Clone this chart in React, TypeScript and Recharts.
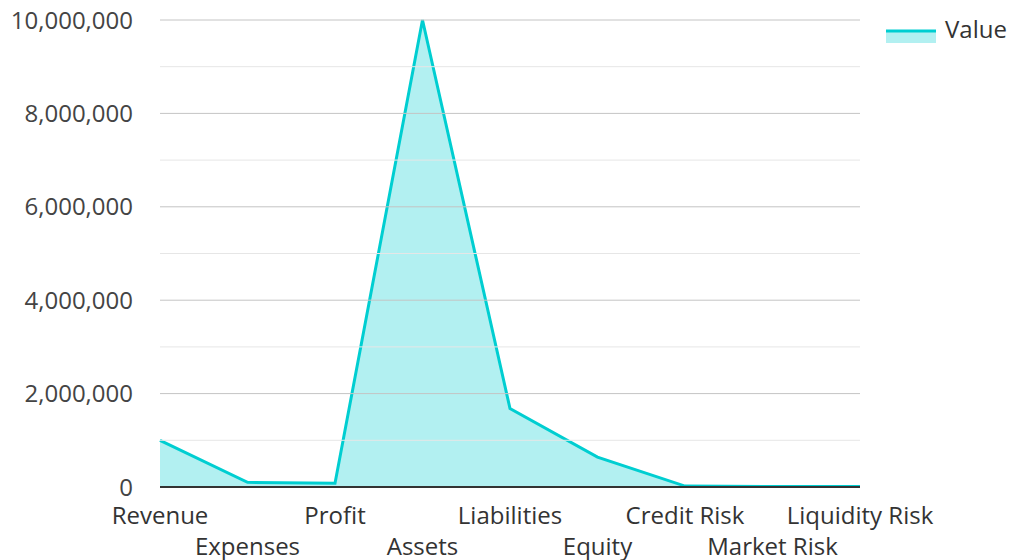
import React from 'react';
import { ComposedChart, Area, XAxis, YAxis, ReferenceLine, Legend } from 'recharts';

const categories = ['Revenue', 'Expenses', 'Profit', 'Assets', 'Liabilities', 'Equity', 'Credit Risk', 'Market Risk', 'Liquidity Risk'];
const values = [1000000, 100000, 80000, 10000000, 1680000, 640000, 20000, 10000, 10000];
const yTicks = [0, 2000000, 4000000, 6000000, 8000000, 10000000];
const minorGrid = [1000000, 3000000, 5000000, 7000000, 9000000];
const majorGrid = [2000000, 4000000, 6000000, 8000000, 10000000];

const data = categories.map((name, i) => ({ name, value: values[i] }));

const FONT = '"Open Sans", "Noto Sans", sans-serif';

const XTick = (props: any) => {
  const { x, y, payload, index } = props;
  const off = index % 2 === 1 ? 43 : 12;
  return (
    <text x={x} y={y + off} dy="0.71em" textAnchor="middle" fill="#333" fontSize={24} fontFamily={FONT}>
      {payload.value}
    </text>
  );
};

const LegendContent = () => (
  <svg width={140} height={34} style={{ display: 'block' }}>
    <rect x={15} y={11} width={50} height={12} fill="#00CED1" fillOpacity={0.3} />
    <line x1={15} x2={65} y1={11} y2={11} stroke="#00CED1" strokeWidth={3} />
    <text x={74} y={18} fontSize={24} fill="#333" fontFamily={FONT}>Value</text>
  </svg>
);

export default function App() {
  return (
    <div style={{ position: 'absolute', left: 0, top: 0, fontFamily: FONT }}>
      <ComposedChart width={1011} height={560} data={data} margin={{ top: 20, right: 11, bottom: 0, left: 0 }}>
        {minorGrid.map((v) => (
          <ReferenceLine key={'mi' + v} y={v} stroke="#e6e6e6" strokeWidth={1} />
        ))}
        {majorGrid.map((v) => (
          <ReferenceLine key={'ma' + v} y={v} stroke="#c4c4c4" strokeWidth={1} />
        ))}
        <XAxis
          dataKey="name"
          interval={0}
          height={73}
          tick={<XTick />}
          tickLine={false}
          axisLine={{ stroke: '#333', strokeWidth: 2 }}
        />
        <YAxis
          width={160}
          domain={[0, 10000000]}
          ticks={yTicks}
          tickFormatter={(v: number) => v.toLocaleString('en-US')}
          tick={{ fontSize: 24, fill: '#444', fontFamily: FONT }}
          tickLine={false}
          axisLine={false}
          tickMargin={21}
        />
        <Legend
          verticalAlign="top"
          align="right"
          layout="vertical"
          content={<LegendContent />}
          wrapperStyle={{ top: 20, right: 0, width: 140 }}
        />
        <Area
          type="linear"
          dataKey="value"
          stroke="#00CED1"
          strokeWidth={3}
          fill="#00CED1"
          fillOpacity={0.3}
          isAnimationActive={false}
          dot={false}
          activeDot={false}
        />
      </ComposedChart>
    </div>
  );
}
